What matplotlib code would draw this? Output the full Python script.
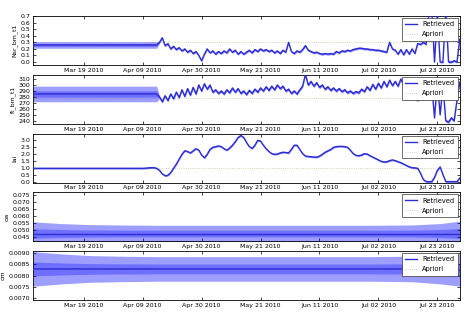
import numpy as np
import pandas as pd
import matplotlib
matplotlib.use("Agg")
import matplotlib.pyplot as plt
import matplotlib.dates as mdates
from matplotlib.ticker import FixedLocator, FormatStrFormatter

plt.rcParams["font.family"] = ["DejaVu Sans"]
plt.rcParams["font.size"] = 5

start = pd.Timestamp("2010-03-01")
end_day = 152
tick_dates = pd.date_range("2010-03-19", periods=7, freq="21D")

# day offsets from 1 March 2010: prior-only period, then daily retrievals
ret_days = [0, 44] + list(range(45, 153))

nsr_mean = [0.26, 0.26,
            0.30, 0.37, 0.25, 0.28, 0.20, 0.24, 0.19, 0.22, 0.17, 0.20,
            0.15, 0.18, 0.13, 0.16, 0.10, 0.02, 0.12, 0.20, 0.14, 0.17,
            0.12, 0.16, 0.13, 0.17, 0.14, 0.20, 0.15, 0.18, 0.12, 0.16,
            0.12, 0.15, 0.18, 0.14, 0.19, 0.16, 0.20, 0.17, 0.19, 0.16,
            0.18, 0.14, 0.17, 0.13, 0.18, 0.15, 0.30, 0.16, 0.13, 0.17,
            0.15, 0.19, 0.25, 0.18, 0.16, 0.14, 0.15, 0.13, 0.12, 0.13,
            0.12, 0.13, 0.12, 0.16, 0.14, 0.17, 0.16, 0.18, 0.17, 0.19,
            0.20, 0.21, 0.21, 0.20, 0.20, 0.19, 0.19, 0.18, 0.18, 0.17,
            0.16, 0.15, 0.30, 0.20, 0.18, 0.12, 0.19, 0.11, 0.19, 0.12,
            0.20, 0.13, 0.28, 0.27, 0.30, 0.27, 0.75, 0.80, 0.00, 0.75,
            0.00, 0.00, 0.80, 0.00, 0.00, 0.02, 0.00, 0.35]
nsr_sd = [0.02, 0.02] + [0.007] * 108
nsr_prior = 0.30

ft_mean = [285, 285,
           280, 272, 282, 274, 285, 277, 288, 279, 292, 281,
           294, 283, 296, 285, 300, 290, 302, 293, 300, 288,
           292, 286, 290, 285, 292, 287, 295, 288, 294, 286,
           290, 284, 291, 286, 293, 288, 295, 290, 297, 291,
           298, 292, 300, 294, 298, 290, 293, 286, 290, 285,
           292, 298, 318, 300, 306, 298, 304, 296, 300, 293,
           297, 291, 295, 290, 294, 289, 292, 287, 290, 286,
           289, 287, 293, 289, 297, 291, 301, 293, 303, 295,
           306, 297, 308, 299, 306, 298, 310, 300, 308, 299,
           305, 277, 275, 278, 276, 305, 310, 300, 245, 305,
           250, 300, 240, 238, 245, 240, 275, 305]
ft_sd = [5.2, 5.2] + [1.0] * 108
ft_prior = 279

lai_days = [0] + list(range(38, 153))
lai_mean = [0.95,
            0.95, 0.95, 0.96, 0.98, 1.00, 1.00, 0.95, 0.80, 0.55, 0.42,
            0.45, 0.65, 0.95, 1.25, 1.60, 1.95, 2.20, 2.15, 2.05, 2.20,
            2.35, 2.25, 1.90, 1.70, 1.95, 2.30, 2.45, 2.50, 2.55, 2.50,
            2.35, 2.25, 2.40, 2.60, 2.85, 3.15, 3.30, 3.15, 2.80, 2.50,
            2.37, 2.60, 2.95, 2.90, 2.60, 2.35, 2.15, 2.00, 1.95, 1.97,
            2.05, 2.10, 2.08, 2.05, 2.30, 2.60, 2.60, 2.30, 2.00, 1.82,
            1.80, 1.78, 1.75, 1.75, 1.82, 1.95, 2.10, 2.20, 2.30, 2.45,
            2.50, 2.52, 2.52, 2.50, 2.45, 2.25, 2.00, 1.88, 1.85, 1.90,
            2.00, 1.97, 1.85, 1.75, 1.65, 1.55, 1.45, 1.40, 1.42, 1.50,
            1.55, 1.50, 1.42, 1.35, 1.25, 1.15, 1.05, 1.00, 0.98, 0.95,
            0.60, 0.15, 0.00, 0.00, 0.00, 0.30, 0.80, 1.05, 0.50, 0.00,
            0.00, 0.00, 0.00, 0.00, 0.25]
lai_sd = [0.025] * len(lai_days)
lai_prior = 1.0

# slowly varying parameters: values at a few node dates
slow_days = [0, 10, 20, 30, 45, 60, 90, 120, 135, 145, 152]
cw_mean = [0.0472] * 11
cw_sd = [0.0034, 0.0029, 0.0026, 0.0025, 0.0024, 0.0024,
         0.0024, 0.0024, 0.0025, 0.0029, 0.0036]
cw_prior = 0.047

cm_mean = [0.0083, 0.0083, 0.0083, 0.0083, 0.0083, 0.0083,
           0.0083, 0.0083, 0.0083, 0.00828, 0.00825]
cm_sd = [0.00031, 0.00027, 0.00024, 0.00023, 0.00022, 0.00022,
         0.00022, 0.00022, 0.00023, 0.00026, 0.00029]
cm_prior = 0.0083

panels = [
    ("Nsr_bm_t1", ret_days, nsr_mean, nsr_sd, nsr_prior, (-0.046, 0.70),
     [0.0, 0.1, 0.2, 0.3, 0.4, 0.5, 0.6, 0.7], "%.1f"),
    ("ft_bm_t1", ret_days, ft_mean, ft_sd, ft_prior, (235, 317),
     [240, 250, 260, 270, 280, 290, 300, 310], "%d"),
    ("lai", lai_days, lai_mean, lai_sd, lai_prior, (-0.07, 3.43),
     [0.0, 0.5, 1.0, 1.5, 2.0, 2.5, 3.0], "%.1f"),
    ("cw", slow_days, cw_mean, cw_sd, cw_prior, (0.0415, 0.0772),
     [0.045, 0.050, 0.055, 0.060, 0.065, 0.070, 0.075], "%.3f"),
    ("cm", slow_days, cm_mean, cm_sd, cm_prior, (0.0069, 0.0091),
     [0.0070, 0.0075, 0.0080, 0.0085, 0.0090], "%.4f"),
]

fig, axes = plt.subplots(5, 1, figsize=(4.74, 3.22), dpi=100)
fig.subplots_adjust(left=0.07, right=0.97, top=0.95, bottom=0.068, hspace=0.2)

t0 = mdates.date2num(start)
t1 = mdates.date2num(start + pd.Timedelta(days=end_day))

for ax, (name, days, mean, sd, prior, ylim, yticks, fmt) in zip(axes, panels):
    t = mdates.date2num(start + pd.to_timedelta(days, unit="D"))
    m = np.asarray(mean, dtype=float)
    s = np.asarray(sd, dtype=float)
    ax.plot([t0, t1], [prior, prior], ls=":", color="#c8c8a0", lw=0.6,
            label="Apriori", zorder=1)
    ax.fill_between(t, m - 2.5 * s, m + 2.5 * s, color="#0000ff",
                    alpha=0.38, lw=0, zorder=2)
    ax.fill_between(t, m - s, m + s, color="#0000ff", alpha=0.3, lw=0, zorder=2)
    ax.plot(t, m, color="#2d2dd2", lw=1.0, label="Retrieved", zorder=3)

    ax.set_xlim(t0, t1)
    ax.set_ylim(*ylim)
    ax.set_yticks(yticks)
    ax.yaxis.set_major_formatter(FormatStrFormatter(fmt))
    ax.xaxis.set_major_locator(FixedLocator(mdates.date2num(tick_dates)))
    ax.xaxis.set_major_formatter(mdates.DateFormatter("%b %d %Y"))
    ax.tick_params(direction="in", top=True, right=True, length=2.5,
                   width=0.5, labelsize=4.5, pad=2)
    for sp in ax.spines.values():
        sp.set_linewidth(0.6)
    ax.set_ylabel(name, fontsize=4.5, labelpad=2)

    h, l = ax.get_legend_handles_labels()
    leg = ax.legend(h[::-1], l[::-1], loc="upper right", fontsize=4.8,
                    fancybox=False, framealpha=1, edgecolor="#333333",
                    borderpad=0.5, handlelength=1.8, handletextpad=0.8,
                    labelspacing=0.6, borderaxespad=0.3)
    leg.get_frame().set_linewidth(0.5)
    leg.set_zorder(5)

fig.savefig("out.png", dpi=100)
